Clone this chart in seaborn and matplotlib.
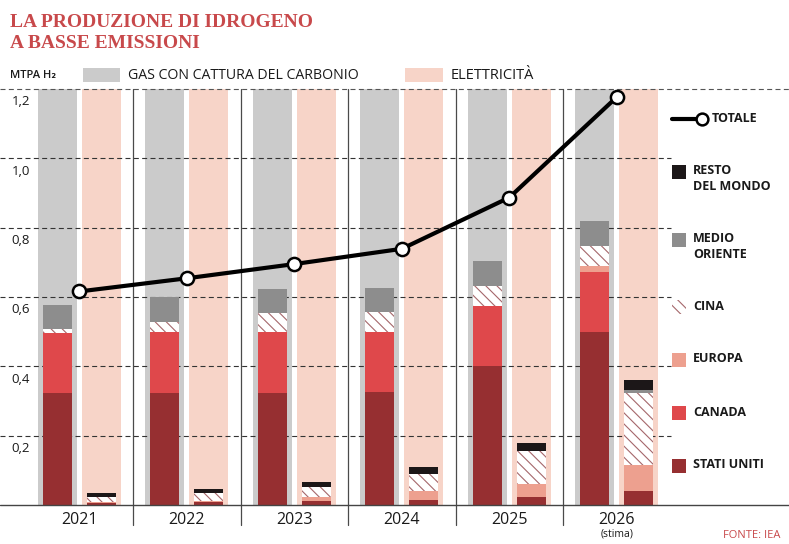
import numpy as np
import pandas as pd
import matplotlib
matplotlib.use("Agg")
import matplotlib.pyplot as plt
from matplotlib.patches import Rectangle
from matplotlib.lines import Line2D
import seaborn as sns

# ---------------------------------------------------------------- data
years = ['2021', '2022', '2023', '2024', '2025', '2026']
totale = [0.616, 0.654, 0.695, 0.739, 0.887, 1.177]

# gas con cattura del carbonio
gas_usa    = [0.322, 0.322, 0.322, 0.327, 0.401, 0.499]
gas_canada = [0.175, 0.176, 0.177, 0.171, 0.173, 0.174]
gas_europa = [0.000, 0.000, 0.000, 0.000, 0.000, 0.017]
gas_cina   = [0.010, 0.031, 0.054, 0.059, 0.059, 0.056]
gas_medio  = [0.070, 0.070, 0.070, 0.069, 0.072, 0.072]
gas_resto  = [0.000, 0.000, 0.000, 0.000, 0.000, 0.000]

# elettricità
el_usa    = [0.006, 0.009, 0.012, 0.014, 0.024, 0.041]
el_canada = [0.000, 0.000, 0.000, 0.000, 0.000, 0.000]
el_europa = [0.004, 0.003, 0.010, 0.027, 0.037, 0.074]
el_cina   = [0.012, 0.022, 0.031, 0.048, 0.095, 0.207]
el_medio  = [0.000, 0.000, 0.000, 0.000, 0.000, 0.010]
el_resto  = [0.012, 0.013, 0.014, 0.020, 0.024, 0.029]

yticks = [0.2, 0.4, 0.6, 0.8, 1.0, 1.2]
ytick_labels = ['0,2', '0,4', '0,6', '0,8', '1,0', '1,2']

# ---------------------------------------------------------------- style
sns.set_theme(style="white")
plt.rcParams['font.family'] = ['Open Sans', 'DejaVu Sans']
plt.rcParams['hatch.linewidth'] = 0.8

C_GAS_BG = '#cbcbcb'
C_EL_BG = '#f7d4c8'
C_USA = '#962f31'
C_CAN = '#df484b'
C_EUR = '#eda08f'
C_CINA = '#a5676b'
C_MEDIO = '#8d8d8d'
C_RESTO = '#1c1718'
C_TITLE = '#c8494b'
C_TEXT = '#1a1a1a'

W, H = 789, 544
fig = plt.figure(figsize=(W / 100, H / 100), dpi=100)

def fx(px):
    return px / W

def fy(py):
    return 1 - py / H

# axes spans full width; one group = 107.5 px
group_px = 107.5
x_left = -0.5 - 25.6 / group_px
x_right = x_left + W / group_px
ax = fig.add_axes([0, fy(505), 1, fy(89) - fy(505)])
ax.set_xlim(x_left, x_right)
ax.set_ylim(0, 1.2)
ax.axis('off')

x = np.arange(len(years))
off = 0.205
bg_w = 0.363
bar_w = 0.27

# background columns
ax.bar(x - off, 1.2, width=bg_w, color=C_GAS_BG, zorder=1, linewidth=0)
ax.bar(x + off, 1.2, width=bg_w, color=C_EL_BG, zorder=1, linewidth=0)

# gridlines
for v in yticks[:-1]:
    ax.plot([x_left, 5.5], [v, v], color='#333333', lw=0.8,
            ls=(0, (4.5, 3)), zorder=2)
ax.plot([x_left, x_right], [1.2, 1.2], color='#555555', lw=0.8,
        ls=(0, (4.5, 3)), zorder=2, clip_on=False)
ax.plot([x_left, x_right], [0, 0], color='#444444', lw=1.0, zorder=5,
        clip_on=False)

# group separators
for s in np.arange(0.5, 5.0, 1.0):
    ax.plot([s, s], [-0.058, 1.2], color='#4a4a4a', lw=0.9, zorder=2,
            clip_on=False)

# stacked bars
layers_gas = [(gas_usa, C_USA, None), (gas_canada, C_CAN, None),
              (gas_europa, C_EUR, None), (gas_cina, 'white', '\\\\\\'),
              (gas_medio, C_MEDIO, None), (gas_resto, C_RESTO, None)]
layers_el = [(el_usa, C_USA, None), (el_canada, C_CAN, None),
             (el_europa, C_EUR, None), (el_cina, 'white', '\\\\\\'),
             (el_medio, C_MEDIO, None), (el_resto, C_RESTO, None)]

for layers, xpos in [(layers_gas, x - off), (layers_el, x + off)]:
    bottom = np.zeros(len(years))
    for vals, col, hatch in layers:
        vals = np.array(vals)
        if hatch:
            ax.bar(xpos, vals, bottom=bottom, width=bar_w, color='white',
                   edgecolor=C_CINA, hatch=hatch, linewidth=0, zorder=3)
        else:
            ax.bar(xpos, vals, bottom=bottom, width=bar_w, color=col,
                   linewidth=0, zorder=3)
        bottom += vals

# totale line
df_tot = pd.DataFrame({'x': x, 'totale': totale})
sns.lineplot(data=df_tot, x='x', y='totale', ax=ax, color='black', lw=3.0,
             marker='o', markersize=9.5, markerfacecolor='white',
             markeredgecolor='black', markeredgewidth=1.8, zorder=6,
             clip_on=False)

# y tick labels (below the gridlines)
for v, lab in zip(yticks, ytick_labels):
    ax.text(x_left + 30 / group_px, v - 0.018, lab, ha='right', va='top',
            fontsize=9.5, color=C_TEXT)

# x labels
for xi, lab in zip(x, years):
    ax.text(xi, -0.043, lab, ha='center', va='center', fontsize=11.5,
            color=C_TEXT)
ax.text(5, -0.083, '(stima)', ha='center', va='center', fontsize=7.5,
        color=C_TEXT)

# ---------------------------------------------------------------- titles
fig.text(fx(10), fy(27), 'LA PRODUZIONE DI IDROGENO', family='Liberation Serif',
         fontweight='bold', fontsize=14, color=C_TITLE, ha='left',
         va='baseline')
fig.text(fx(10), fy(48), 'A BASSE EMISSIONI', family='Liberation Serif',
         fontweight='bold', fontsize=14, color=C_TITLE, ha='left',
         va='baseline')

fig.text(fx(10), fy(76), 'MTPA H₂', fontsize=8, color=C_TEXT, ha='left',
         va='center', fontweight='semibold')

# top legend
fig.add_artist(Rectangle((fx(83), fy(82)), fx(37), fy(68) - fy(82),
                         transform=fig.transFigure, color=C_GAS_BG, lw=0))
fig.text(fx(128), fy(75), 'GAS CON CATTURA DEL CARBONIO', fontsize=10.2,
         color=C_TEXT, ha='left', va='center')
fig.add_artist(Rectangle((fx(405), fy(82)), fx(38), fy(68) - fy(82),
                         transform=fig.transFigure, color=C_EL_BG, lw=0))
fig.text(fx(451), fy(75), 'ELETTRICITÀ', fontsize=10.5, color=C_TEXT,
         ha='left', va='center')

# right legend
fig.add_artist(Line2D([fx(672), fx(700)], [fy(119), fy(119)],
                      transform=fig.transFigure, color='black', lw=3.0))
fig.add_artist(Line2D([fx(702)], [fy(119)], transform=fig.transFigure,
                      marker='o', markersize=8.5, markerfacecolor='white',
                      markeredgecolor='black', markeredgewidth=1.8))
fig.text(fx(712), fy(119), 'TOTALE', fontsize=9, fontweight='bold',
         color=C_TEXT, ha='left', va='center')

legend_items = [('RESTO\nDEL MONDO', C_RESTO, None, 172),
                ('MEDIO\nORIENTE', C_MEDIO, None, 240),
                ('CINA', 'white', '\\\\\\', 307),
                ('EUROPA', C_EUR, None, 360),
                ('CANADA', C_CAN, None, 413),
                ('STATI UNITI', C_USA, None, 466)]
for lab, col, hatch, yc in legend_items:
    if hatch:
        fig.add_artist(Rectangle((fx(672), fy(yc + 7)), fx(14), fy(yc - 7) - fy(yc + 7),
                                 transform=fig.transFigure, facecolor='white',
                                 edgecolor=C_CINA, hatch=hatch, lw=0))
    else:
        fig.add_artist(Rectangle((fx(672), fy(yc + 7)), fx(14), fy(yc - 7) - fy(yc + 7),
                                 transform=fig.transFigure, color=col, lw=0))
    fig.text(fx(693), fy(yc - 7.5), lab, fontsize=9, fontweight='bold',
             color=C_TEXT, ha='left', va='top', linespacing=1.2)

fig.text(fx(780), fy(536), 'FONTE: IEA', fontsize=8, color=C_TITLE,
         ha='right', va='center')

fig.savefig('out.png', dpi=100)
